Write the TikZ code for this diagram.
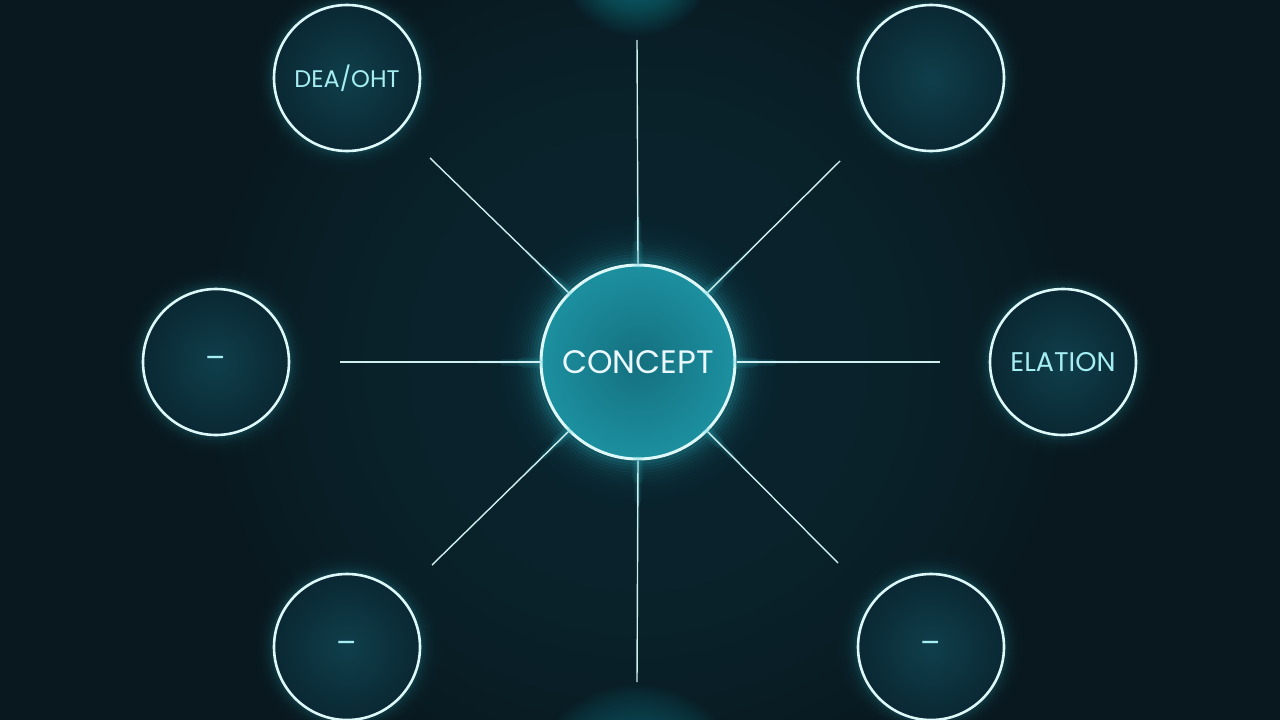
\documentclass[tikz,border=0pt]{standalone}
\usepackage{fontspec}
\setmainfont{Poppins}
\usetikzlibrary{calc}
\definecolor{bg}{HTML}{09171E}
\definecolor{bgmid}{HTML}{0D2A34}
\definecolor{glowc}{HTML}{2BC3D2}
\definecolor{rim}{HTML}{DDF8F8}
\definecolor{txtc}{HTML}{A6EEF2}
\definecolor{outin}{HTML}{0F3F4B}
\definecolor{outout}{HTML}{0A2833}
\definecolor{cin}{HTML}{15707F}
\definecolor{cout}{HTML}{1C90A0}
\definecolor{raycol}{HTML}{CFEFF1}
\tikzset{
  outer/.style={circle, draw=rim, line width=2.6pt, minimum size=146pt, inner sep=0pt,
    shade, shading=radial, inner color=outin, outer color=outout, text=txtc},
  centre/.style={circle, draw=rim, line width=3pt, minimum size=194pt, inner sep=0pt,
    shade, shading=radial, inner color=cin, outer color=cout, text=white!92!cyan},
  ray/.style={draw=raycol, line width=1.4pt},
  rayglow/.style={draw=glowc, line cap=round, opacity=0.09},
  lbl/.style={font=\fontsize{24}{28}\selectfont},
  dashlbl/.style={font=\fontsize{30}{34}\selectfont},
}
\begin{document}
\begin{tikzpicture}[x=1pt,y=-1pt]
\useasboundingbox (0,0) rectangle (1280,720);
\fill[bg] (0,0) rectangle (1280,720);
% soft ambient glow
\foreach \k in {1,...,14} \fill[bgmid, opacity=0.12] (638,362) circle ({120+\k*22});
% glows at top and bottom centre
\foreach \k in {0,...,20} \fill[glowc, opacity=0.025] (637,-42) circle ({38+\k*2});
\foreach \k in {0,...,20} \fill[glowc, opacity=0.02] (637,795) circle ({60+\k*2.5});
% outer glows
\foreach \p in {(347,78),(931,78),(216,362),(1063,362),(347,647),(931,647)}{
  \foreach \k [evaluate=\k as \op using {0.22*exp(-\k/3)}] in {1,...,12}
    \draw[glowc, line width=2.2pt, opacity=\op] \p circle ({73+\k*2});
  \foreach \k [evaluate=\k as \op using {0.18*exp(-\k/2)}] in {1,...,6}
    \draw[glowc, line width=2.2pt, opacity=\op] \p circle ({73-\k*2});
}
% centre glow
\foreach \k [evaluate=\k as \op using {0.4*exp(-\k/4)}] in {1,...,18}
  \draw[glowc, line width=3.2pt, opacity=\op] (638,362) circle ({97+\k*3});

% end coordinates of rays
\coordinate (tEnd) at (637,40);
\coordinate (bEnd) at (637,682);
\coordinate (lEnd) at (340,362);
\coordinate (rEnd) at (940,362);
\coordinate (tlEnd) at (430,158);
\coordinate (trEnd) at (840,161);
\coordinate (blEnd) at (432,565);
\coordinate (brEnd) at (838,563);

\node[centre, font=\fontsize{32.5}{36}\selectfont] (cc) at (638,362) {CONCEPT};

\foreach \a/\e in {north/tEnd, south/bEnd, west/lEnd, east/rEnd, 135/tlEnd, 45/trEnd, 225/blEnd, -45/brEnd}{
  \path[rayglow, line width=4pt] (cc.\a) -- ($(cc.\a)!0.3!(\e)$);
  \path[rayglow, line width=7pt] (cc.\a) -- ($(cc.\a)!0.18!(\e)$);
  \path[rayglow, line width=11pt] (cc.\a) -- ($(cc.\a)!0.08!(\e)$);
}
\foreach \a/\e in {north/tEnd, south/bEnd, west/lEnd, east/rEnd, 135/tlEnd, 45/trEnd, 225/blEnd, -45/brEnd}{
  \draw[ray] (cc.\a) -- (\e);
}

\node[outer, lbl] (tl) at (347,78) {DEA/OHT};
\node[outer] (tr) at (931,78) {};
\node[outer, dashlbl] (l) at (216,362) {–};
\node[outer, font=\fontsize{27}{30}\selectfont] (r) at (1063,362) {ELATION};
\node[outer, dashlbl] (bl) at (347,647) {–};
\node[outer, dashlbl] (br) at (931,647) {–};
\end{tikzpicture}
\end{document}
